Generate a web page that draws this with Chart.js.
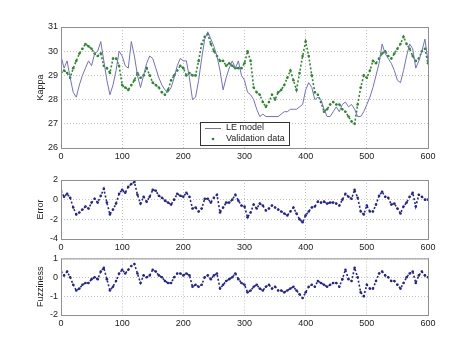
<!DOCTYPE html>
<html>
<head>
<meta charset="utf-8">
<script src="https://cdn.jsdelivr.net/npm/chart.js@4.4.0/dist/chart.umd.min.js"></script>
<style>
  html, body { margin: 0; padding: 0; background: #fff; }
  #wrap { position: relative; width: 474px; height: 354px; }
  .panel { position: absolute; left: 0; width: 474px; }
</style>
</head>
<body>
<div id="wrap">
  <div class="panel" style="top:0;height:170px"><canvas id="kappa"></canvas></div>
  <div class="panel" style="top:160px;height:100px"><canvas id="error"></canvas></div>
  <div class="panel" style="top:250px;height:87px"><canvas id="fuzz"></canvas></div>
</div>
<script>
// sample positions (x axis)
const sampleX = [0,5,10,15,20,25,30,35,40,45,50,55,60,65,70,75,80,85,90,95,
  100,105,110,115,120,125,130,135,140,145,150,155,160,165,170,175,180,185,190,195,
  200,205,210,215,220,225,230,235,240,245,250,255,260,265,270,275,280,285,290,295,
  300,305,310,315,320,325,330,335,340,345,350,355,360,365,370,375,380,385,390,395,
  400,405,410,415,420,425,430,435,440,445,450,455,460,465,470,475,480,485,490,495,
  500,505,510,515,520,525,530,535,540,545,550,555,560,565,570,575,580,585,590,595,600];

// Kappa: LE model output
const leModel = [29.8,29.3,29.6,28.9,28.3,28.1,28.6,29.0,29.3,29.6,29.4,29.9,30.0,30.4,29.6,28.8,28.2,28.6,29.2,30.0,
  29.8,29.4,29.3,30.4,29.8,29.0,28.5,29.0,29.5,29.8,29.7,29.3,28.9,28.6,28.4,28.3,28.5,28.9,29.4,29.7,
  29.6,29.6,28.9,28.0,28.1,28.8,29.7,30.5,30.8,30.5,30.2,29.8,29.2,28.4,28.9,29.3,29.6,29.3,29.6,29.0,
  28.8,28.3,28.2,28.0,27.6,27.3,27.4,27.3,27.3,27.3,27.3,27.3,27.4,27.5,27.5,27.6,27.6,27.6,27.7,27.8,
  28.4,28.7,28.5,28.0,28.1,28.0,27.6,27.3,27.3,27.5,27.7,27.5,27.8,27.9,27.7,27.8,27.6,27.3,27.3,27.5,
  27.8,28.1,28.5,29.0,29.5,30.3,29.9,29.7,29.5,29.2,28.8,28.7,29.2,29.8,30.3,30.1,29.3,29.6,30.0,30.5,29.6];

// Kappa: validation data
const validation = [29.1,29.2,29.1,28.9,29.3,29.6,29.9,30.1,30.3,30.2,30.1,29.9,29.8,29.9,29.4,29.3,29.1,29.7,29.7,29.4,
  28.6,28.5,28.4,28.6,28.8,29.1,28.9,29.0,29.3,29.0,28.7,28.6,28.5,28.3,28.2,28.4,28.8,29.0,29.2,29.4,
  29.3,29.0,29.1,29.0,29.0,29.6,30.3,30.6,30.7,30.3,30.0,29.8,29.6,29.6,29.4,29.5,29.4,29.3,29.3,29.3,
  29.5,30.0,29.6,28.5,28.3,28.2,27.9,27.7,27.9,28.2,28.0,28.3,28.4,28.6,28.9,29.2,28.8,28.4,29.1,29.8,
  30.4,29.8,29.0,28.3,28.2,27.9,27.5,27.6,27.8,27.9,27.8,27.8,27.6,27.5,27.3,27.1,27.0,27.8,28.5,29.0,
  28.9,29.2,29.6,29.5,29.7,29.9,30.0,29.8,29.7,29.9,30.1,30.3,30.6,30.3,30.1,29.8,29.6,29.7,30.0,30.1,29.5];

// Error
const errorVals = [0.9,0.3,0.6,0.2,-0.8,-1.5,-1.3,-1.0,-0.7,-0.9,-0.3,0.1,-0.3,0.4,1.1,-0.3,-1.5,-1.0,-0.4,0.6,
  1.0,0.7,1.3,1.6,1.8,0.5,-0.4,0.3,-0.2,0.3,1.0,0.9,0.4,0.2,-0.1,-0.3,-0.5,0.0,0.6,0.4,
  0.3,0.7,0.3,-0.9,-0.8,-1.2,-0.9,0.1,0.1,-0.3,0.2,0.5,-1.3,-0.8,-0.3,-0.3,0.0,0.5,-0.1,-0.6,
  -0.7,-1.8,-1.3,-0.5,-0.9,-0.4,-0.6,-1.1,-0.9,-0.6,-0.8,-1.0,-1.2,-1.4,-1.6,-1.2,-0.8,-1.4,-2.0,-2.3,
  -1.6,-1.2,-0.8,-0.7,-0.2,-0.3,-0.2,-0.4,-0.3,-0.3,-0.4,-0.6,0.0,0.6,0.3,0.1,1.0,0.2,-1.2,-1.5,
  -0.6,-1.2,-1.2,-0.5,0.4,0.8,0.3,0.2,-0.5,-0.4,-0.9,-1.4,-0.7,-0.3,0.3,0.7,-0.7,0.5,0.3,0.0,0.0];

// Fuzziness
const fuzziness = [0.3,0.1,0.3,0.0,-0.4,-0.7,-0.6,-0.4,-0.3,-0.3,-0.1,0.0,-0.1,0.3,0.5,-0.1,-0.7,-0.5,-0.2,0.2,
  0.4,0.2,0.4,0.6,0.7,0.2,-0.3,0.1,0.0,0.1,0.4,0.3,0.1,0.0,-0.2,-0.3,-0.3,0.0,0.2,0.2,
  0.1,0.2,0.1,-0.5,-0.4,-0.5,-0.4,0.0,0.1,-0.1,0.1,0.2,-0.6,-0.4,-0.2,-0.1,0.0,0.2,-0.1,-0.3,
  -0.4,-0.8,-0.7,-0.5,-0.4,-0.6,-0.7,-0.5,-0.4,-0.6,-0.5,-0.7,-0.7,-0.8,-0.7,-0.6,-0.5,-0.7,-0.9,-1.1,
  -0.8,-0.5,-0.4,-0.5,-0.2,-0.3,-0.4,-0.5,-0.4,-0.3,-0.3,-0.5,-0.1,0.4,-0.1,-0.2,0.5,0.0,-0.8,-1.0,
  -0.4,-0.6,-0.6,-0.2,0.2,0.3,0.1,0.0,-0.2,-0.2,-0.4,-0.6,-0.3,0.0,0.2,0.3,-0.3,0.1,0.3,0.1,0.0];

const FONT = 'Liberation Sans, Arial, sans-serif';
const pts = (ys) => sampleX.map((x, i) => ({ x: x, y: ys[i] }));

// frame, y title and (optional) boxed legend like the matlab figure
const framePlugin = {
  id: 'frame',
  afterDraw(chart, args, opts) {
    const { ctx, chartArea: a } = chart;
    ctx.save();
    ctx.strokeStyle = '#8f8f8f';
    ctx.lineWidth = 1;
    ctx.strokeRect(a.left + 0.5, a.top + 0.5, a.right - a.left, a.bottom - a.top);

    ctx.fillStyle = '#222';
    ctx.font = '9px ' + FONT;
    ctx.textAlign = 'center';
    ctx.textBaseline = 'middle';
    ctx.translate(a.left - 20, (a.top + a.bottom) / 2);
    ctx.rotate(-Math.PI / 2);
    ctx.fillText(opts.title, 0, 0);
    ctx.restore();

    if (opts.legend) {
      const lx = a.left + 139, ly = a.top + 95, w = 89, h = 23;
      ctx.save();
      ctx.fillStyle = '#fff';
      ctx.fillRect(lx, ly, w, h);
      ctx.strokeStyle = '#333';
      ctx.strokeRect(lx + 0.5, ly + 0.5, w, h);
      ctx.font = '9px ' + FONT;
      ctx.textBaseline = 'middle';
      ctx.textAlign = 'left';
      chart.data.datasets.forEach((ds, i) => {
        const y = ly + 6 + i * 11;
        if (ds.borderDash) {
          ctx.fillStyle = ds.pointBackgroundColor;
          ctx.beginPath();
          ctx.arc(lx + 13, y, 1.3, 0, Math.PI * 2);
          ctx.fill();
        } else {
          ctx.strokeStyle = ds.borderColor;
          ctx.beginPath();
          ctx.moveTo(lx + 5, y + 0.5);
          ctx.lineTo(lx + 21, y + 0.5);
          ctx.stroke();
        }
        ctx.fillStyle = '#222';
        ctx.fillText(ds.label, lx + 26, y);
      });
      ctx.restore();
    }
  }
};

// dotted-marker trace: small dots joined by a broken line so it reads like the dense matlab '.' markers
function dotted(label, ys, color) {
  return {
    label: label, data: pts(ys), showLine: true,
    borderColor: color, borderWidth: 1.6, borderDash: [2, 2],
    pointBackgroundColor: color, pointBorderWidth: 0, pointRadius: 1.3
  };
}

function makeChart(id, datasets, yMin, yMax, yStep, pad, xH, title, legend) {
  return new Chart(document.getElementById(id), {
    type: 'scatter',
    data: { datasets: datasets },
    plugins: [framePlugin],
    options: {
      responsive: true,
      maintainAspectRatio: false,
      animation: false,
      layout: { padding: { left: 0, right: 46, top: pad, bottom: 0 } },
      plugins: {
        legend: { display: false },
        tooltip: { enabled: false },
        frame: { title: title, legend: legend }
      },
      scales: {
        x: {
          type: 'linear', min: 0, max: 600,
          ticks: { stepSize: 100, padding: 3, color: '#222', font: { family: FONT, size: 9 } },
          grid: { color: '#c4c4c4', drawTicks: false },
          border: { display: false, dash: [1, 2] },
          afterFit: (s) => { s.height = xH; }
        },
        y: {
          min: yMin, max: yMax,
          ticks: { stepSize: yStep, padding: 3, color: '#222', font: { family: FONT, size: 9 } },
          grid: { color: '#c4c4c4', drawTicks: false },
          border: { display: false, dash: [1, 2] },
          afterFit: (s) => { s.width = 61; }
        }
      }
    }
  });
}

makeChart('kappa', [
  {
    label: 'LE model', data: pts(leModel), showLine: true,
    borderColor: '#7070c8', borderWidth: 1, pointRadius: 0
  },
  dotted('Validation data', validation, '#2a8a2a')
], 26, 31, 1, 27, 22, 'Kappa', true);

makeChart('error', [dotted('Error', errorVals, '#22229a')], -4, 2, 2, 20, 21, 'Error', false);

makeChart('fuzz', [dotted('Fuzziness', fuzziness, '#22229a')], -2, 1, 1, 7, 22, 'Fuzziness', false);
</script>
</body>
</html>
